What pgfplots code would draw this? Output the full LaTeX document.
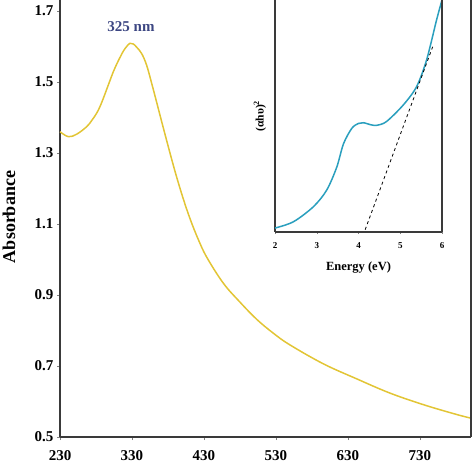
\documentclass[border=0pt]{standalone}
\usepackage{fontspec}
\setmainfont{Liberation Serif}
\usepackage{pgfplots}
\pgfplotsset{compat=1.18}
\definecolor{axisgray}{HTML}{3A3A3A}
\definecolor{curveyellow}{HTML}{E2C535}
\definecolor{curveteal}{HTML}{2A9FBE}
\definecolor{labelblue}{HTML}{3C4682}
\begin{document}
\begin{tikzpicture}
\begin{axis}[
  name=main, at={(0pt,0pt)}, anchor=south west, scale only axis,
  width=411pt, height=437pt,
  xmin=230, xmax=801, ymin=0.5, ymax=1.731,
  axis x line*=bottom, axis y line*=left,
  axis line style={-, draw=axisgray, line width=1.2pt},
  xtick={230,330,430,530,630,730},
  ytick={0.5,0.7,0.9,1.1,1.3,1.5,1.7},
  yticklabel style={/pgf/number format/fixed, /pgf/number format/precision=1, /pgf/number format/fixed zerofill},
  /pgf/number format/assume math mode=true,
  tick align=outside, major tick length=3pt,
  tick style={draw=gray, line width=0.6pt},
  ticklabel style={font=\fontsize{15}{15}\selectfont\bfseries},
  xticklabel style={yshift=-7pt},
  clip=false,
]
\addplot[curveyellow, line width=1.5pt, smooth, tension=0.6] coordinates {
(230,1.360) (241.6,1.346) (253.2,1.353) (267.0,1.374) (273.9,1.391) (280.9,1.412)
(285.6,1.431) (290.2,1.454) (294.8,1.479) (299.4,1.504) (304.1,1.529) (308.7,1.550)
(313.3,1.569) (318.0,1.587) (322.6,1.600) (327.2,1.609) (331.9,1.607) (336.5,1.598)
(343.5,1.580) (350.4,1.547) (357.4,1.496) (364.4,1.442) (371.3,1.388) (378.2,1.335)
(385.2,1.282) (392.1,1.232) (401.4,1.170) (411,1.113) (422,1.057) (434,1.006)
(457,0.933) (480,0.880) (503,0.832) (526,0.793) (549,0.760) (596,0.706)
(642,0.664) (688,0.624) (735,0.591) (780,0.564) (801,0.553)
};
\draw[axisgray, line width=1.2pt] (rel axis cs:1,0) -- (rel axis cs:1,1);
\node[font=\fontsize{15}{15}\selectfont\bfseries, text=labelblue] at (axis cs:328.6,1.655) {325 nm};
\end{axis}
\node[rotate=90, font=\fontsize{18}{18}\selectfont\bfseries] at (-51pt,220pt) {Absorbance};
\begin{axis}[
  name=inset, at={(215pt,205pt)}, anchor=south west, scale only axis,
  width=167pt, height=232pt,
  xmin=2, xmax=6, ymin=0, ymax=1,
  axis background/.style={fill=white},
  axis x line*=bottom, axis y line*=left,
  axis line style={-, draw=axisgray, line width=1.1pt},
  xtick={2,3,4,5,6}, ytick=\empty,
  /pgf/number format/assume math mode=true,
  tick align=outside, major tick length=2pt,
  tick style={draw=gray, line width=0.5pt},
  ticklabel style={font=\fontsize{9}{9}\selectfont\bfseries},
  xticklabel style={yshift=-5pt},
  xlabel={Energy (eV)},
  xlabel style={font=\fontsize{12.5}{12.5}\selectfont\bfseries, yshift=-6pt},
  clip=false,
]
\addplot[curveteal, line width=1.5pt, smooth] coordinates {
(2,0.017) (2.44,0.044) (2.92,0.109) (3.24,0.181) (3.48,0.28) (3.64,0.38) (3.84,0.447)
(4.0,0.468) (4.12,0.471) (4.3,0.462) (4.44,0.46) (4.67,0.476) (5.07,0.547) (5.39,0.626)
(5.63,0.741) (5.87,0.914) (6.0,1.0)
};
\addplot[black, dashed, line width=0.8pt] coordinates {(4.16,0.01) (5.78,0.80)};
\draw[axisgray, line width=1.1pt] (rel axis cs:1,0) -- (rel axis cs:1,1);
\node[rotate=90, font=\fontsize{11.5}{11.5}\selectfont\bfseries] at (rel axis cs:-0.09,0.5) {(αhυ)\textsuperscript{2}};
\end{axis}
\pgfresetboundingbox
\path[use as bounding box] (-60pt,-37pt) rectangle (414pt,437pt);
\end{tikzpicture}
\end{document}
